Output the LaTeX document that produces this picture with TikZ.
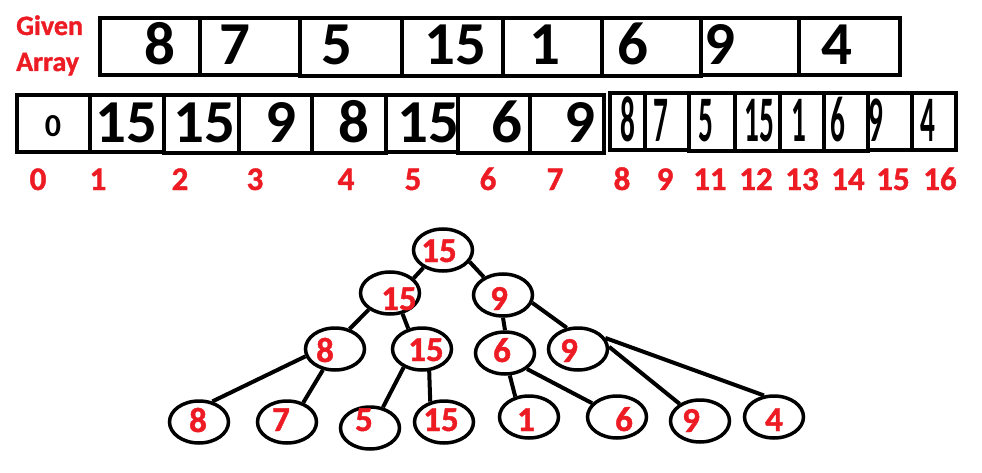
\documentclass[tikz,border=0pt]{standalone}
\usepackage{fontspec}
\setmainfont{Carlito}
\newfontfamily\heavyfont{Carlito Bold}[FakeBold=1.2]
\usetikzlibrary{shapes.geometric}
\definecolor{pred}{HTML}{ED1C24}
\newcommand\mycell[5]{\node[cellbox, minimum width={#3-#2}, minimum height={#5-#4}] (#1) at ({(#2+#3)/2},{(#4+#5)/2}) {};}
\newcommand\tl[3]{\makebox[0pt]{\hspace*{#1pt}\raisebox{\dimexpr -11pt-(#2pt)\relax}[0pt][0pt]{#3}\hspace*{-#1pt}}}
\tikzset{
  cellbox/.style={draw, line width=4pt, inner sep=0pt, outer sep=0pt},
  bignum/.style={anchor=base, inner sep=0pt, font=\bfseries\fontsize{61}{61}\selectfont},
  narrownum/.style={anchor=base, inner sep=0pt, xscale=0.45, font=\bfseries\fontsize{65}{65}\selectfont},
  idx/.style={anchor=base, inner sep=0pt, text=pred, font=\heavyfont\fontsize{33}{33}\selectfont},
  tnode/.style={ellipse, draw, line width=3.5pt, minimum width=59pt, minimum height=42pt, inner sep=0pt, text=pred, font=\heavyfont\fontsize{35}{35}\selectfont},
  tedge/.style={line width=4pt}
}
\begin{document}
\begin{tikzpicture}[x=1pt,y=-1pt]
\useasboundingbox (0,0) rectangle (982,473);
% Given array label
\node[anchor=base west, inner sep=0pt, text=pred, font=\heavyfont\fontsize{28}{28}\selectfont] (glab1) at (16,35) {Given};
\node[anchor=base west, inner sep=0pt, text=pred, font=\heavyfont\fontsize{28}{28}\selectfont] (glab2) at (16,71) {Array};
% Given array cells
\mycell{g1}{100}{200}{18}{75}
\mycell{g2}{200}{300}{18}{75}
\mycell{g3}{300}{402}{18}{76}
\mycell{g4}{402}{503}{18}{76}
\mycell{g5}{503}{602}{18}{76}
\mycell{g6}{602}{701}{18}{76}
\mycell{g7}{701}{799}{18}{75}
\mycell{g8}{799}{900}{18}{75}
\node[bignum] (gt1) at (160,65) {8};
\node[bignum] (gt2) at (235,65) {7};
\node[bignum] (gt3) at (337,65) {5};
\node[bignum] (gt4) at (455,65) {15};
\node[bignum] (gt5) at (545,65) {1};
\node[bignum] (gt6) at (633,65) {6};
\node[bignum] (gt7) at (720,65) {9};
\node[bignum] (gt8) at (837,65) {4};
% segment tree array, first part
\mycell{s0}{17}{90}{95}{152}
\mycell{s1}{90}{164}{95}{152}
\mycell{s2}{164}{239}{95}{153}
\mycell{s3}{239}{312}{95}{153}
\mycell{s4}{312}{386}{95}{153}
\mycell{s5}{386}{458}{95}{152}
\mycell{s6}{458}{530}{95}{153}
\mycell{s7}{530}{604}{95}{153}
\node[anchor=base, inner sep=0pt, font=\bfseries\fontsize{32}{32}\selectfont] (st0) at (53,137) {0};
\node[bignum] (st1) at (126,143) {15};
\node[bignum] (st2) at (204,143) {15};
\node[bignum] (st3) at (281,143) {9};
\node[bignum] (st4) at (354,143) {8};
\node[bignum] (st5) at (428,143) {15};
\node[bignum] (st6) at (507,143) {6};
\node[bignum] (st7) at (580,143) {9};
% second part
\mycell{s8}{610}{645}{93}{150}
\mycell{s9}{645}{689}{93}{150}
\mycell{s11}{689}{735}{93}{151}
\mycell{s12}{735}{780}{93}{151}
\mycell{s13}{780}{824}{93}{151}
\mycell{s14}{824}{868}{93}{151}
\mycell{s15}{868}{912}{93}{150}
\mycell{s16}{912}{956}{93}{150}
\node[narrownum] (st8) at (628,142) {8};
\node[narrownum] (st9) at (661,142) {7};
\node[narrownum] (st11) at (706,142) {5};
\node[narrownum] (st12) at (759,142) {15};
\node[narrownum] (st13) at (799,142) {1};
\node[narrownum] (st14) at (838,142) {6};
\node[narrownum] (st15) at (876,142) {9};
\node[narrownum] (st16) at (928,142) {4};
% indices
\node[idx] (i0) at (38,190) {0};
\node[idx] (i1) at (98,190) {1};
\node[idx] (i2) at (180,190) {2};
\node[idx] (i3) at (255,190) {3};
\node[idx] (i4) at (346,190) {4};
\node[idx] (i5) at (413,190) {5};
\node[idx] (i6) at (488,190) {6};
\node[idx] (i7) at (555,190) {7};
\node[idx] (i8) at (622,190) {8};
\node[idx] (i9) at (665,190) {9};
\node[idx] (i11) at (710,190) {11};
\node[idx] (i12) at (756,190) {12};
\node[idx] (i13) at (802,190) {13};
\node[idx] (i14) at (848,190) {14};
\node[idx] (i15) at (893,190) {15};
\node[idx] (i16) at (940,190) {16};
% tree
\node[tnode] (r) at (443,250) {\tl{-4}{1}{15}};
\node[tnode] (a) at (390,293) {\tl{9}{6}{15}};
\node[tnode] (b) at (503,295) {\tl{-4}{4}{9}};
\node[tnode] (c) at (335,349) {\tl{-10}{2}{8}};
\node[tnode] (d) at (422,349) {\tl{4}{1}{15}};
\node[tnode] (e) at (505,353) {\tl{-3}{-2}{6}};
\node[tnode] (f) at (578,349) {\tl{-9}{2}{9}};
\node[tnode] (l1) at (199,422) {\tl{-1}{-1}{8}};
\node[tnode] (l2) at (287,422) {\tl{-6}{-2}{7}};
\node[tnode] (l3) at (370,428) {\tl{-6}{-8}{5}};
\node[tnode] (l4) at (444,422) {\tl{-3}{-2}{15}};
\node[tnode] (l5) at (529,417) {\tl{-3}{3}{1}};
\node[tnode] (l6) at (617,417) {\tl{7}{3}{6}};
\node[tnode] (l7) at (700,421) {\tl{-9}{0}{9}};
\node[tnode] (l8) at (774,417) {\tl{0}{3}{4}};
\draw[tedge] (r.222) -- (a.32);
\draw[tedge] (r.-24) -- (b.137);
\draw[tedge] (a.218) -- (c.54);
\draw[tedge] (a.-59) -- (d.124);
\draw[tedge] (c.194) -- (l1.57);
\draw[tedge] (c.240) -- (l2.50);
\draw[tedge] (d.225) -- (l3.58);
\draw[tedge] (d.-72) -- (l4.124);
\draw[tedge] (b.south) -- (e.north);
\draw[tedge] (b.-15) -- (f.118);
\draw[tedge] (e.-78) -- (l5.124);
\draw[tedge] (e.-36) -- (l6.151);
\draw[tedge] (f.4) -- (l7.140);
\draw[tedge] (f.22) -- (l8.115);
\end{tikzpicture}
\end{document}
